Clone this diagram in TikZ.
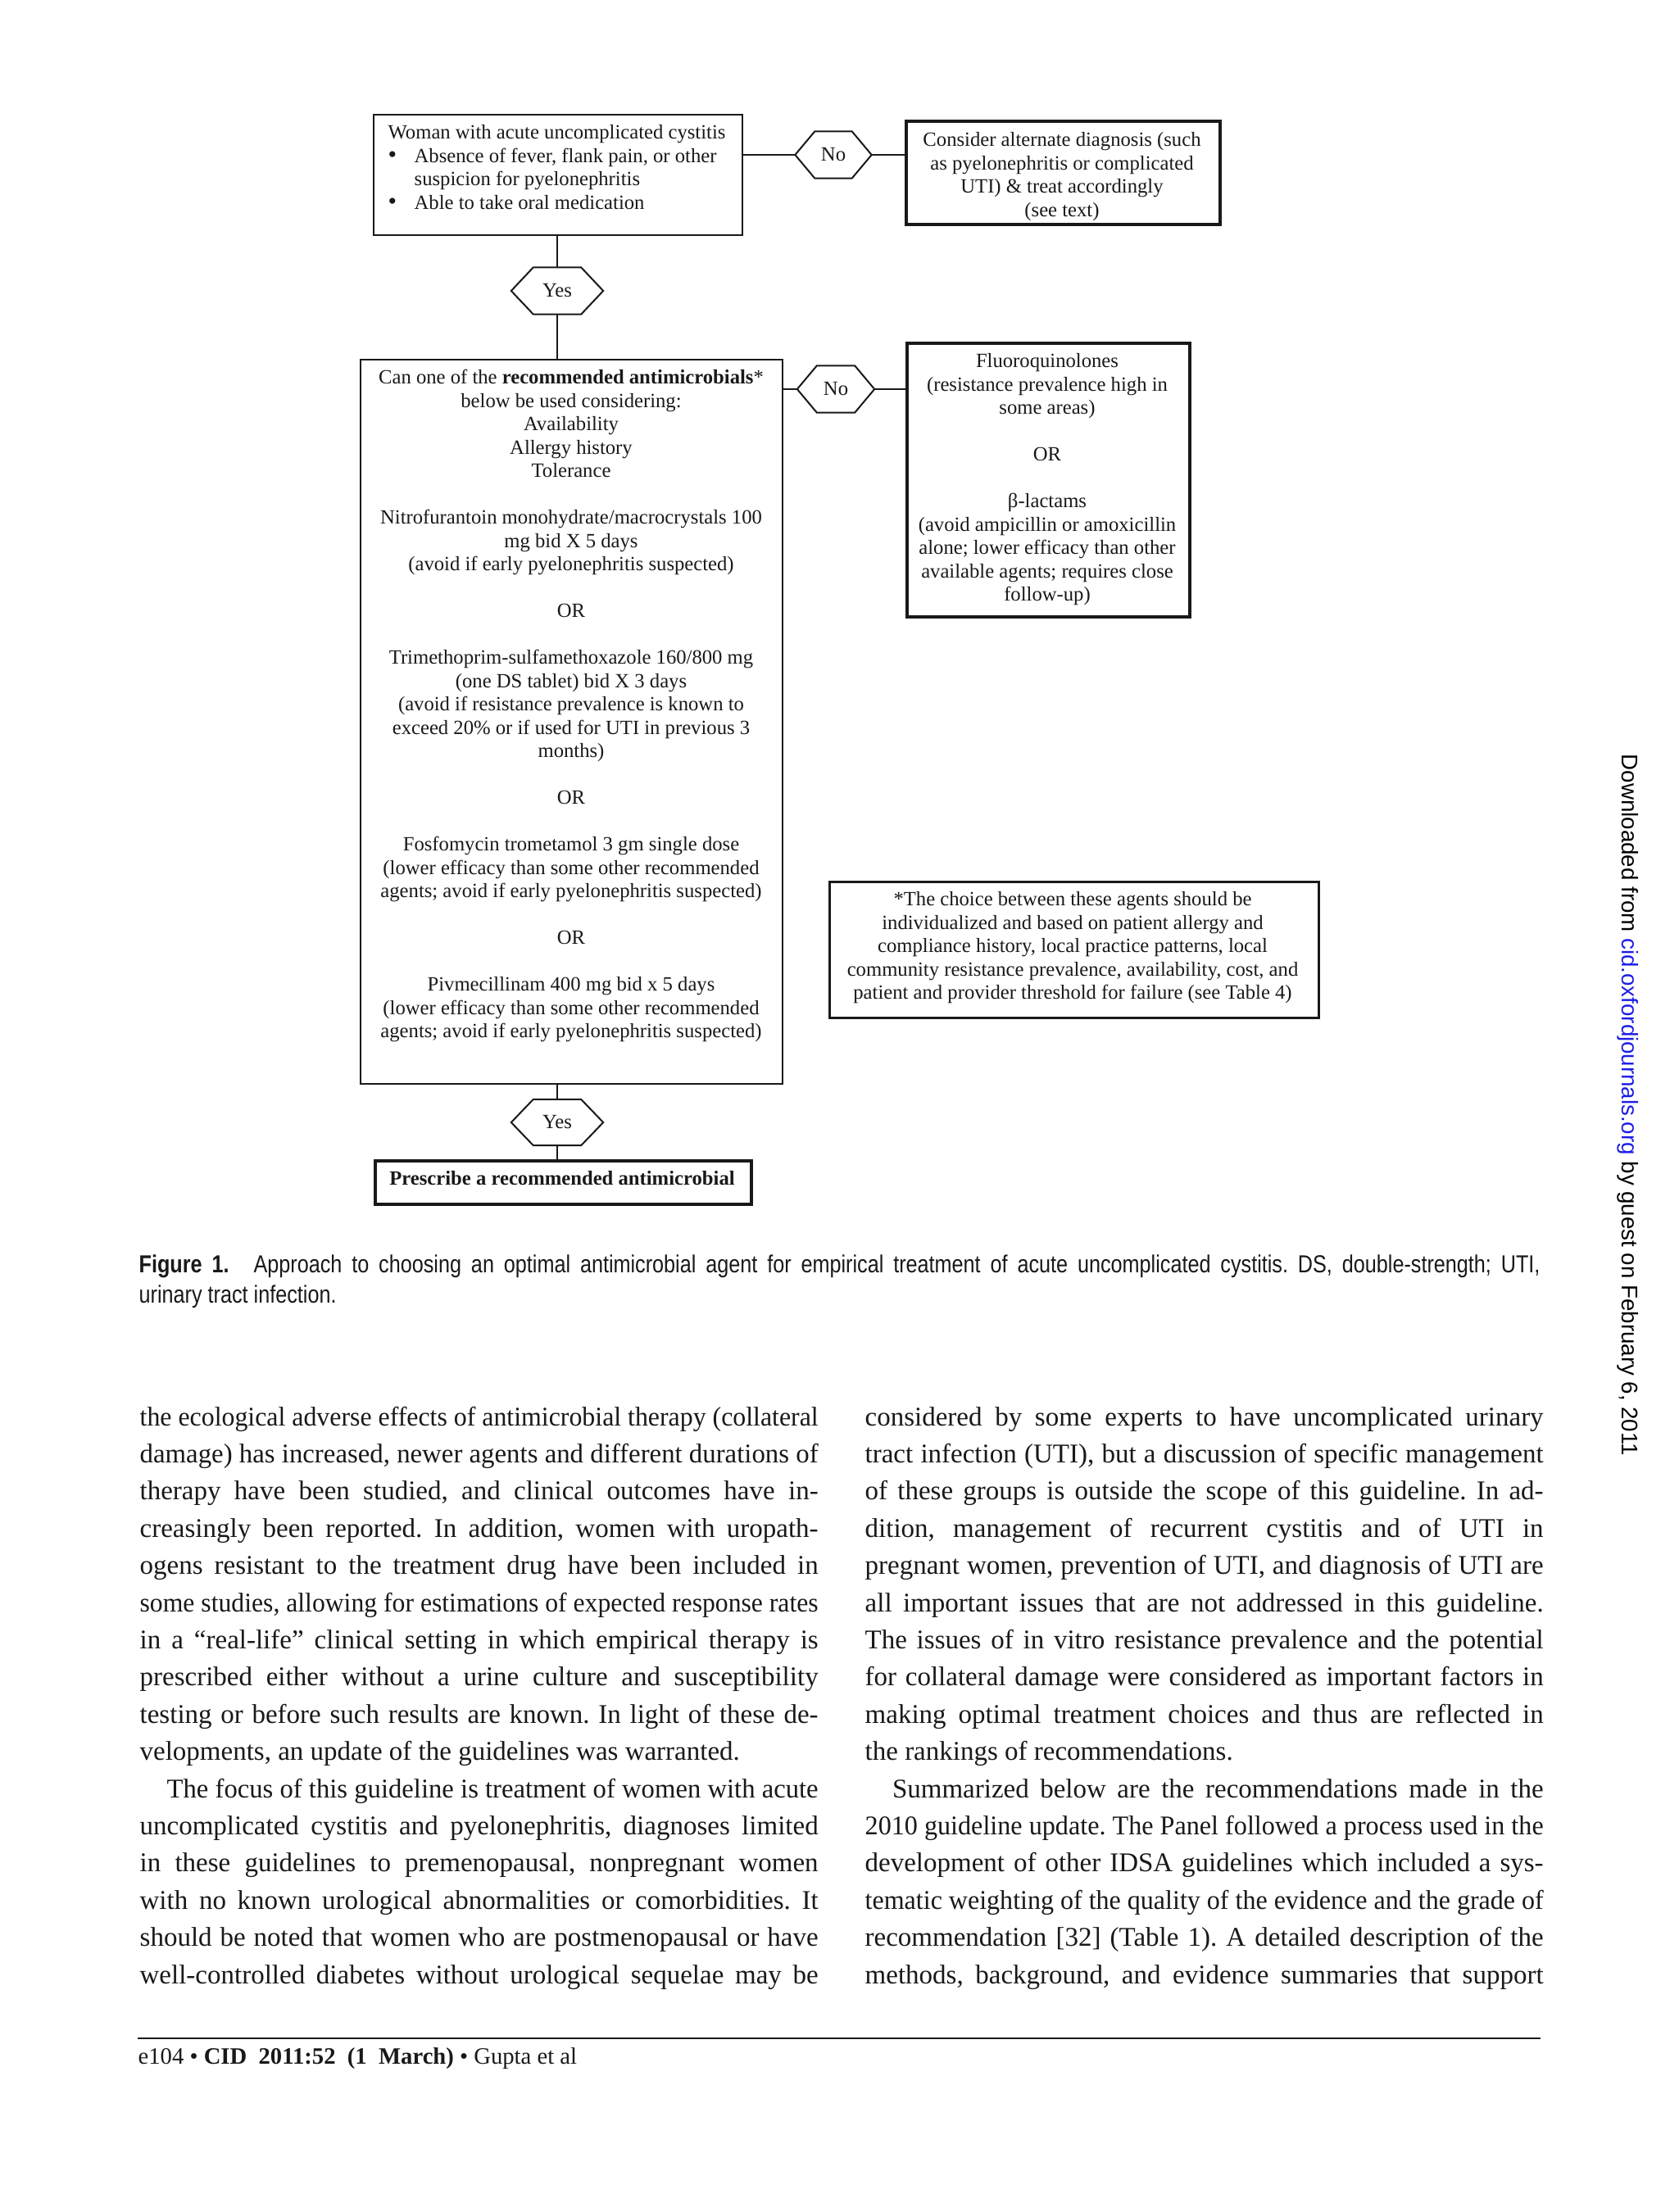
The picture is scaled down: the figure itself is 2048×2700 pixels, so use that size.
\documentclass[tikz,border=0pt]{standalone}
\usepackage{fontspec}
\setmainfont{Liberation Serif}
\newfontfamily\capfont[FakeStretch=0.84]{Liberation Sans}
\newfontfamily\sidefont{Liberation Sans}
\usepackage{graphicx}
\definecolor{linkblue}{RGB}{30,30,230}
\definecolor{ink}{RGB}{25,25,25}
\frenchspacing
\newlength\jw
\newcommand\jlw[2]{\setlength\jw{#1}\setbox0\hbox{#2}\ifdim\wd0>\jw\resizebox{\jw}{\height}{#2}\else\hbox to\jw{#2}\fi}
\newcommand\jl[1]{\jlw{248.4pt}{#1}}
\begin{document}
\begin{tikzpicture}[x=0.3pt,y=-0.3pt,
 dfont/.style={font=\fontsize{7.4}{8.55}\selectfont},
 thinbox/.style={draw=ink, line width=0.6pt, inner sep=0pt, anchor=north west},
 thickbox/.style={draw=ink, line width=1.3pt, inner sep=0pt, anchor=north west},
 notebox/.style={draw=ink, line width=1.0pt, inner sep=0pt, anchor=north west},
 hexlabel/.style={inner sep=0pt, dfont, text=ink},
 conn/.style={draw=ink, line width=0.6pt},
 dtext/.style={dfont, inner sep=0pt, align=center, anchor=north, text=ink},
 body/.style={font=\fontsize{9.9}{13.6}\selectfont, inner sep=0pt, anchor=base west, text=ink},
 captext/.style={font=\capfont\fontsize{9}{11}\selectfont, inner sep=0pt, anchor=base west, text=ink}]
\useasboundingbox (0,0) rectangle (2048,2700);
\fill[white] (0,0) rectangle (2048,2700);

% ---------- boxes ----------
\node[thinbox, minimum width=450*0.3pt, minimum height=147*0.3pt] (box1) at (455,139) {};
\node[thickbox, minimum width=383*0.3pt, minimum height=126*0.3pt] (box2) at (1104,146) {};
\node[thinbox, minimum width=515*0.3pt, minimum height=884*0.3pt] (box3) at (439,438) {};
\node[thickbox, minimum width=345*0.3pt, minimum height=334*0.3pt] (box4) at (1105,417) {};
\node[notebox, minimum width=597*0.3pt, minimum height=166*0.3pt] (note) at (1011,1075) {};
\node[thickbox, minimum width=459*0.3pt, minimum height=53*0.3pt] (box5) at (456,1415) {};

% ---------- hexagons ----------
\node[hexlabel, minimum width=92*0.3pt, minimum height=56*0.3pt] (no1) at (1017,189) {No};
\node[hexlabel, minimum width=93*0.3pt, minimum height=56*0.3pt] (no2) at (1020,475) {No};
\node[hexlabel, minimum width=111*0.3pt, minimum height=56*0.3pt] (yes1) at (680,355) {Yes};
\node[hexlabel, minimum width=111*0.3pt, minimum height=55*0.3pt] (yes2) at (680,1370) {Yes};
\foreach \h/\s in {no1/7.2pt, no2/7.2pt, yes1/8.1pt, yes2/8.1pt}{
 \draw[conn] (\h.west) -- ([xshift=\s]\h.north west) -- ([xshift=-\s]\h.north east) -- (\h.east)
  -- ([xshift=-\s]\h.south east) -- ([xshift=\s]\h.south west) -- cycle;
}

% ---------- connectors ----------
\draw[conn] (box1.east |- no1.west) -- (no1.west);
\draw[conn] (no1.east) -- (no1.east -| box2.west);
\draw[conn] (box1.south -| yes1.north) -- (yes1.north);
\draw[conn] (yes1.south) -- (yes1.south |- box3.north);
\draw[conn] (box3.east |- no2.west) -- (no2.west);
\draw[conn] (no2.east) -- (no2.east -| box4.west);
\draw[conn] (yes2.north |- box3.south) -- (yes2.north);
\draw[conn] (yes2.south) -- (yes2.south |- box5.north);

% ---------- diagram texts ----------
\node[dtext, align=left, anchor=north west] (t1) at (473,149) {\rule{0pt}{6pt}Woman with acute uncomplicated cystitis\\
\makebox[9.6pt][l]{\raisebox{-0.2pt}{\fontsize{9}{9}\selectfont\textbullet}}Absence of fever, flank pain, or other\\
\hspace*{9.6pt}suspicion for pyelonephritis\\
\makebox[9.6pt][l]{\raisebox{-0.2pt}{\fontsize{9}{9}\selectfont\textbullet}}Able to take oral medication};

\node[dtext] (t2) at (1296,158) {\rule{0pt}{6pt}Consider alternate diagnosis (such\\
as pyelonephritis or complicated\\
UTI) \& treat accordingly\\
(see text)};

\node[dtext] (t3) at (697,448) {\rule{0pt}{6pt}Can one of the \textbf{recommended antimicrobials}*\\
below be used considering:\\
Availability\\
Allergy history\\
Tolerance\\
\mbox{}\\
Nitrofurantoin monohydrate/macrocrystals 100\\
mg bid X 5 days\\
(avoid if early pyelonephritis suspected)\\
\mbox{}\\
OR\\
\mbox{}\\
Trimethoprim-sulfamethoxazole 160/800 mg\\
(one DS tablet) bid X 3 days\\
(avoid if resistance prevalence is known to\\
exceed 20\% or if used for UTI in previous 3\\
months)\\
\mbox{}\\
OR\\
\mbox{}\\
Fosfomycin trometamol 3 gm single dose\\
(lower efficacy than some other recommended\\
agents; avoid if early pyelonephritis suspected)\\
\mbox{}\\
OR\\
\mbox{}\\
Pivmecillinam 400 mg bid x 5 days\\
(lower efficacy than some other recommended\\
agents; avoid if early pyelonephritis suspected)};

\node[dtext] (t4) at (1278,428) {\rule{0pt}{6pt}Fluoroquinolones\\
(resistance prevalence high in\\
some areas)\\
\mbox{}\\
OR\\
\mbox{}\\
β-lactams\\
(avoid ampicillin or amoxicillin\\
alone; lower efficacy than other\\
available agents; requires close\\
follow-up)};

\node[dtext] (tn) at (1309,1085) {\rule{0pt}{6pt}*The choice between these agents should be\\
individualized and based on patient allergy and\\
compliance history, local practice patterns, local\\
community resistance prevalence, availability, cost, and\\
patient and provider threshold for failure (see Table 4)};

\node[dfont, inner sep=0pt, anchor=base, text=ink] (t5) at (686,1446) {\textbf{Prescribe a recommended antimicrobial}};

% ---------- caption ----------
\node[captext] (cap1) at (169,1553) {\jlw{513pt}{\textbf{Figure 1.}\hspace{1em}Approach to choosing an optimal antimicrobial agent for empirical treatment of acute uncomplicated cystitis. DS, double-strength; UTI,}};
\node[captext] (cap2) at (169,1590) {urinary tract infection.};

% ---------- body text, left column ----------
\node[body] (l1) at (170,1740) {\jl{the ecological adverse effects of antimicrobial therapy (collateral}};
\node[body] (l2) at (170,1785.4) {\jl{damage) has increased, newer agents and different durations of}};
\node[body] (l3) at (170,1830.8) {\jl{therapy have been studied, and clinical outcomes have in-}};
\node[body] (l4) at (170,1876.2) {\jl{creasingly been reported. In addition, women with uropath-}};
\node[body] (l5) at (170,1921.6) {\jl{ogens resistant to the treatment drug have been included in}};
\node[body] (l6) at (170,1967) {\jl{some studies, allowing for estimations of expected response rates}};
\node[body] (l7) at (170,2012.4) {\jl{in a “real-life” clinical setting in which empirical therapy is}};
\node[body] (l8) at (170,2057.8) {\jl{prescribed either without a urine culture and susceptibility}};
\node[body] (l9) at (170,2103.2) {\jl{testing or before such results are known. In light of these de-}};
\node[body] (l10) at (170,2148.6) {velopments, an update of the guidelines was warranted.};
\node[body] (l11) at (170,2194) {\jl{\hspace*{10pt}The focus of this guideline is treatment of women with acute}};
\node[body] (l12) at (170,2239.4) {\jl{uncomplicated cystitis and pyelonephritis, diagnoses limited}};
\node[body] (l13) at (170,2284.8) {\jl{in these guidelines to premenopausal, nonpregnant women}};
\node[body] (l14) at (170,2330.2) {\jl{with no known urological abnormalities or comorbidities. It}};
\node[body] (l15) at (170,2375.6) {\jl{should be noted that women who are postmenopausal or have}};
\node[body] (l16) at (170,2421) {\jl{well-controlled diabetes without urological sequelae may be}};

% ---------- body text, right column ----------
\node[body] (r1) at (1055,1740) {\jl{considered by some experts to have uncomplicated urinary}};
\node[body] (r2) at (1055,1785.4) {\jl{tract infection (UTI), but a discussion of specific management}};
\node[body] (r3) at (1055,1830.8) {\jl{of these groups is outside the scope of this guideline. In ad-}};
\node[body] (r4) at (1055,1876.2) {\jl{dition, management of recurrent cystitis and of UTI in}};
\node[body] (r5) at (1055,1921.6) {\jl{pregnant women, prevention of UTI, and diagnosis of UTI are}};
\node[body] (r6) at (1055,1967) {\jl{all important issues that are not addressed in this guideline.}};
\node[body] (r7) at (1055,2012.4) {\jl{The issues of in vitro resistance prevalence and the potential}};
\node[body] (r8) at (1055,2057.8) {\jl{for collateral damage were considered as important factors in}};
\node[body] (r9) at (1055,2103.2) {\jl{making optimal treatment choices and thus are reflected in}};
\node[body] (r10) at (1055,2148.6) {the rankings of recommendations.};
\node[body] (r11) at (1055,2194) {\jl{\hspace*{10pt}Summarized below are the recommendations made in the}};
\node[body] (r12) at (1055,2239.4) {\jl{2010 guideline update. The Panel followed a process used in the}};
\node[body] (r13) at (1055,2284.8) {\jl{development of other IDSA guidelines which included a sys-}};
\node[body] (r14) at (1055,2330.2) {\jl{tematic weighting of the quality of the evidence and the grade of}};
\node[body] (r15) at (1055,2375.6) {\jl{recommendation [32] (Table 1). A detailed description of the}};
\node[body] (r16) at (1055,2421) {\jl{methods, background, and evidence summaries that support}};

% ---------- footer ----------
\coordinate (ruleL) at (168,2488);
\coordinate (ruleR) at (1880,2488);
\draw[ink, line width=0.75pt] (ruleL) -- (ruleR);
\node[inner sep=0pt, anchor=base west, text=ink, font=\fontsize{8.6}{10}\selectfont] (foot) at (168,2519) {e104 \textbullet\ \textbf{CID\ \ 2011:52\ \ (1\ \ March)} \textbullet\ Gupta et al};

% ---------- side note ----------
\node[rotate=-90, inner sep=0pt, text=black, font=\sidefont\fontsize{8.3}{10}\selectfont] (side) at (1987,1349) {Downloaded from \textcolor{linkblue}{cid.oxfordjournals.org} by guest on February 6, 2011};
\end{tikzpicture}
\end{document}
